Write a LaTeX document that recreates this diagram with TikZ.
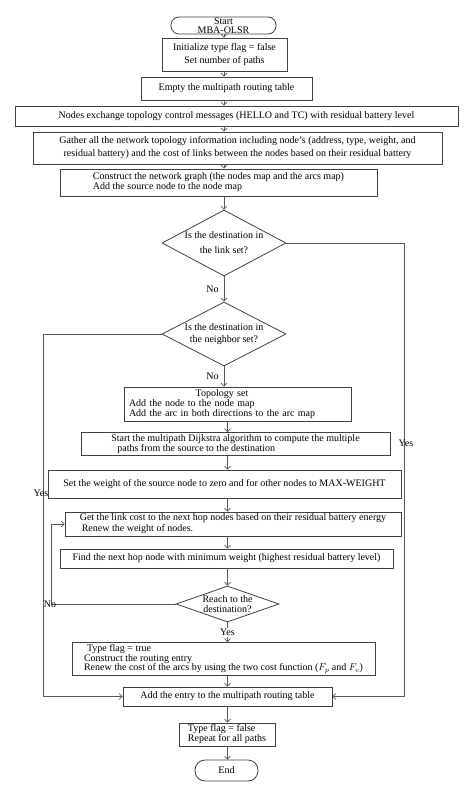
\documentclass[tikz,border=0pt]{standalone}
\usepackage{fontspec}
\setmainfont{Liberation Serif}
\usetikzlibrary{shapes.geometric, arrows.meta}

\tikzset{
  box/.style={draw=black!75, line width=0.8pt, inner sep=2pt, align=center,
    font=\fontsize{10}{12}\selectfont},
  term/.style={box, rounded corners=8pt},
  decision/.style={diamond, draw=black!75, line width=0.8pt, inner sep=0pt},
  arr/.style={draw=black!65, line width=0.7pt, -{Straight Barb[length=3pt,width=6pt]}},
  lbl/.style={font=\fontsize{10}{12}\selectfont, inner sep=1pt},
}

\begin{document}
\begin{tikzpicture}[x=1pt, y=-1pt]
\useasboundingbox (0,0) rectangle (474,797);

% upper part
\node[term, minimum width=105pt, minimum height=17pt, inner sep=0pt,
  font=\fontsize{10}{9}\selectfont] (start) at (223.5,25.5) {Start\\MBA-OLSR};
\node[box, minimum width=125pt, minimum height=33pt,
  font=\fontsize{10}{13}\selectfont] (init) at (224.5,54.5)
  {Initialize type flag = false\\Set number of paths};
\node[box, minimum width=171pt, minimum height=23pt] (empty) at (226.5,88.5)
  {Empty the multipath routing table};
\node[box, minimum width=443pt, minimum height=20pt] (exch) at (236.5,116)
  {Nodes exchange topology control messages (HELLO and TC) with residual battery level};
\node[box, minimum width=409pt, minimum height=32pt,
  font=\fontsize{10}{13}\selectfont] (gather) at (237.5,148)
  {Gather all the network topology information including node’s (address, type, weight, and\\
   residual battery) and the cost of links between the nodes based on their residual battery};
\node[box, minimum width=317pt, minimum height=27pt, align=left,
  font=\fontsize{10}{10}\selectfont] (graph) at (218.5,182.5)
  {Construct the network graph (the nodes map and the arcs map)\\
   Add the source node to the node map};

% decisions
\node[decision, minimum width=124pt, minimum height=66pt,
  label={[lbl, align=center, font=\fontsize{10}{15}\selectfont]center:Is the destination in\\the link set?}]
  (d1) at (224,243) {};
\node[decision, minimum width=124pt, minimum height=64pt,
  label={[lbl, align=center]center:Is the destination in\\the neighbor set?}]
  (d2) at (224,334) {};

% lower part
\node[box, minimum width=227pt, minimum height=30pt, inner xsep=5pt, text width=217pt,
  align=left, font=\fontsize{10}{10}\selectfont] (topo) at (237.5,404)
  {\begin{tabular}{@{}l@{}}\multicolumn{1}{@{}c@{}}{Topology set}\\
   Add the node to the node map\\
   Add the arc in both directions to the arc map\end{tabular}};
\node[box, minimum width=309pt, minimum height=22pt, align=left,
  font=\fontsize{10}{10}\selectfont] (dijk) at (235.5,444)
  {Start the multipath Dijkstra algorithm to compute the multiple\\
   \hspace*{6pt}paths from the source to the destination};
\node[box, minimum width=353pt, minimum height=28pt, inner xsep=1pt] (setw) at (224.5,484)
  {Set the weight of the source node to zero and for other nodes to MAX-WEIGHT};
\node[box, minimum width=336pt, minimum height=22pt, inner xsep=1pt, align=left,
  font=\fontsize{10}{11}\selectfont] (getlink) at (233,524)
  {Get the link cost to the next hop nodes based on their residual battery energy\\
   \hspace*{2pt}Renew the weight of nodes.};
\node[box, minimum width=333pt, minimum height=19pt, inner xsep=1pt] (find) at (226.5,558.5)
  {Find the next hop node with minimum weight (highest residual battery level)};
\node[decision, minimum width=103pt, minimum height=36pt,
  label={[lbl, align=center, font=\fontsize{10}{10}\selectfont]center:Reach to the\\destination?}]
  (d3) at (227.5,604) {};
\node[box, minimum width=303pt, minimum height=32pt, align=left,
  font=\fontsize{10}{9.5}\selectfont] (typetrue) at (223.5,659)
  {\hspace*{3pt}Type flag = true\\
   Construct the routing entry\\
   Renew the cost of the arcs by using the two cost function ($F_p$ and $F_e$)};
\node[box, minimum width=209pt, minimum height=19pt] (addentry) at (227.5,696.5)
  {Add the entry to the multipath routing table};
\node[box, minimum width=96pt, minimum height=21pt, align=left,
  font=\fontsize{10}{10}\selectfont] (typefalse) at (227,734.5)
  {Type flag = false\\Repeat for all paths};
\node[term, minimum width=63pt, minimum height=21pt, rounded corners=10pt] (end) at (226.5,770.5)
  {End};

% side lines
\coordinate (rside) at (404,0);
\coordinate (lside) at (43,0);
\coordinate (loop) at (51,0);

% connectors
\foreach \a/\b in {start/init, init/empty, empty/exch, exch/gather, gather/graph, graph/d1}
  \draw[arr] (\a.south -| d1) -- (\b.north -| d1);
\draw[arr] (d1.south) -- node[lbl, left, xshift=-4pt] {No} (d2.north);
\draw[arr] (d2.south) -- node[lbl, left, xshift=-4pt] {No} (d2.south |- topo.north);
\foreach \a/\b in {topo/dijk, dijk/setw, setw/getlink, getlink/find, find/d3}
  \draw[arr] (\a.south -| d3) -- (\b.north -| d3);
\draw[arr] (d3.south) -- node[lbl, fill=white] {Yes} (d3.south |- typetrue.north);
\foreach \a/\b in {typetrue/addentry, addentry/typefalse, typefalse/end}
  \draw[arr] (\a.south -| d3) -- (\b.north -| d3);

\draw[arr] (d1.east) -| (rside |- addentry.east) -- (addentry.east);
\draw[arr] (d2.west) -| (lside |- addentry.west) -- (addentry.west);
\draw[arr] (d3.west) -| (loop |- getlink.west) -- (getlink.west);

\node[lbl] (yesr) at (406,443) {Yes};
\node[lbl] (yesl) at (41,493) {Yes};
\node[lbl] (noloop) at (50,604) {No};

\end{tikzpicture}
\end{document}
